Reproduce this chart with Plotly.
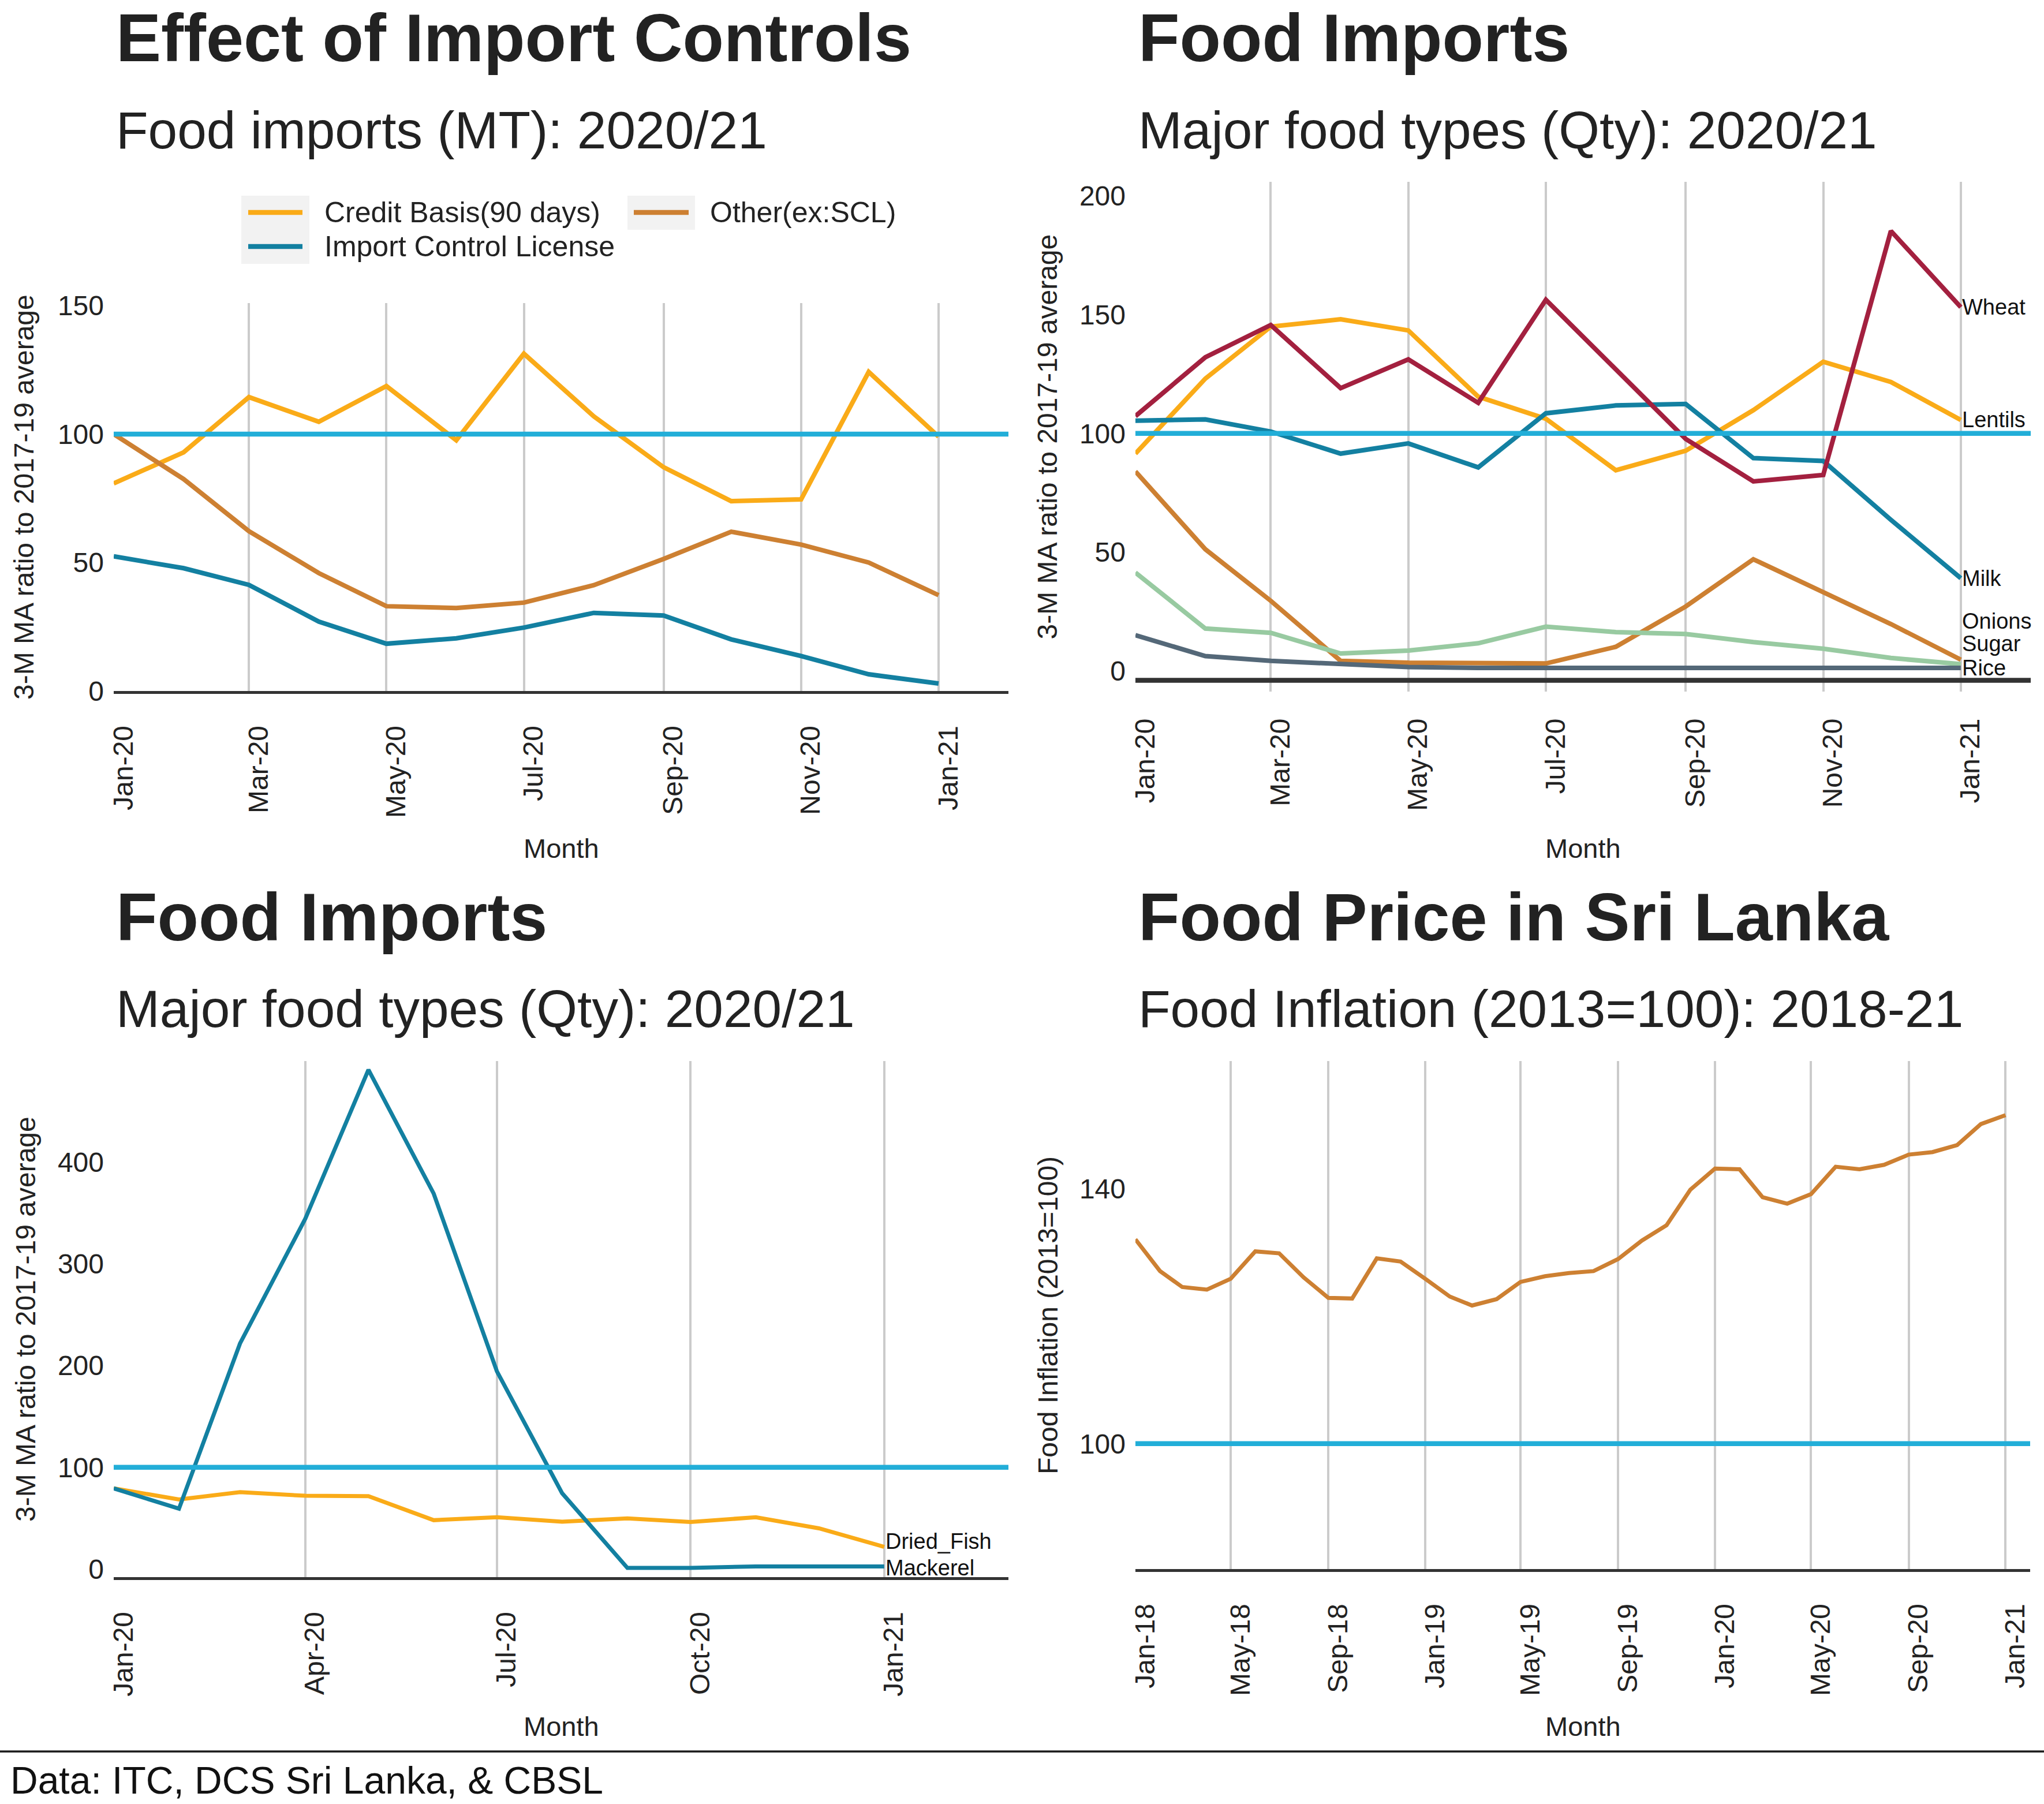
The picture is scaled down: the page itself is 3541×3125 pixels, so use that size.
import plotly.graph_objects as go
import pandas as pd

W, H = 3541, 3125
FONT = "Liberation Sans, Arial, Helvetica, sans-serif"
TXT = "#222222"
GRID = "#cbcbcb"
AXIS = "#333333"
REFC = "#22AED8"
YEL = "#FAAB18"
TEAL = "#1380A1"
ORG = "#CD8032"
CRIM = "#A3203F"
GREEN = "#98CAA1"
SLATE = "#546878"

# ---------------- data ----------------
months_20 = pd.date_range("2020-01-01", "2021-01-01", freq="MS")
months_18 = pd.date_range("2018-01-01", "2021-01-01", freq="MS")

# Panel 1: Food imports (MT), 3-M MA ratio to 2017-19 average
credit_basis = [80.8, 92.9, 114.4, 104.8, 118.7, 97.6, 131.3, 106.9, 87.1, 73.9, 74.6, 124.2, 99.0]
other_ex_scl = [100.0, 82.5, 62.2, 45.9, 33.0, 32.3, 34.4, 41.2, 51.4, 62.0, 57.0, 50.0, 37.3]
import_control = [52.4, 47.8, 41.3, 27.0, 18.4, 20.5, 24.7, 30.4, 29.4, 20.1, 13.6, 6.5, 2.9]

# Panel 2: major food types
lentils = [91.5, 123.1, 145.0, 148.1, 143.4, 115.5, 106.2, 84.5, 92.7, 109.8, 130.2, 121.7, 105.7]
milk = [105.4, 105.9, 100.8, 91.5, 95.8, 85.7, 108.5, 111.8, 112.4, 89.6, 88.4, 63.6, 39.0]
wheat = [107.3, 132.1, 145.7, 119.1, 131.2, 112.9, 156.3, 126.8, 97.7, 79.8, 82.5, 185.3, 153.2]
onions = [84.0, 51.2, 29.5, 4.2, 3.4, 3.1, 3.1, 10.1, 27.1, 47.0, 33.3, 19.7, 4.7]
sugar = [41.4, 17.8, 16.0, 7.3, 8.5, 11.6, 18.6, 16.3, 15.5, 12.1, 9.3, 5.4, 2.8]
rice = [15.0, 6.2, 4.2, 2.8, 1.6, 1.2, 1.2, 1.2, 1.2, 1.2, 1.2, 1.2, 1.2]

# Panel 3: fish
dried_fish = [79.3, 68.4, 75.6, 72.0, 71.6, 48.0, 50.9, 46.5, 49.8, 46.2, 50.9, 40.0, 21.8]
mackerel = [79.3, 59.3, 221.8, 344.4, 490.9, 369.1, 194.5, 74.5, 1.1, 1.1, 2.5, 2.5, 2.5]

# Panel 4: Food inflation (2013=100)
food_inflation = [132.1, 127.1, 124.6, 124.2, 125.9, 130.2, 129.9, 126.1, 122.9, 122.8,
                  129.1, 128.6, 125.9, 123.1, 121.7, 122.7, 125.4, 126.3, 126.8, 127.1,
                  129.0, 131.9, 134.3, 139.9, 143.2, 143.1, 138.7, 137.7, 139.2, 143.5,
                  143.1, 143.8, 145.4, 145.8, 146.9, 150.2, 151.6]

REF_LEVEL = 100
PANEL2_BASE = -4

legend_names = ["Credit Basis(90 days)", "Import Control License", "Other(ex:SCL)"]

panel1 = [("Credit Basis(90 days)", credit_basis, YEL),
          ("Other(ex:SCL)", other_ex_scl, ORG),
          ("Import Control License", import_control, TEAL)]
panel2 = [("Lentils", lentils, YEL, 0), ("Milk", milk, TEAL, 0), ("Wheat", wheat, CRIM, 0),
          ("Onions", onions, ORG, 67), ("Sugar", sugar, GREEN, 36), ("Rice", rice, SLATE, 0)]
panel3 = [("Dried_Fish", dried_fish, YEL, 10), ("Mackerel", mackerel, TEAL, -2)]


def fx(p):
    return p / W


def fy(p):
    return 1 - p / H


fig = go.Figure()

for name, vals, col in panel1:
    fig.add_trace(go.Scatter(x=months_20, y=vals, mode="lines", name=name,
                             line=dict(color=col, width=8), xaxis="x", yaxis="y"))
for name, vals, col, _ in panel2:
    fig.add_trace(go.Scatter(x=months_20, y=vals, mode="lines", name=name,
                             line=dict(color=col, width=8), xaxis="x2", yaxis="y2"))
for name, vals, col, _ in panel3:
    fig.add_trace(go.Scatter(x=months_20, y=vals, mode="lines", name=name,
                             line=dict(color=col, width=7), xaxis="x3", yaxis="y3"))
fig.add_trace(go.Scatter(x=months_18, y=food_inflation, mode="lines", name="Food Inflation",
                         line=dict(color=ORG, width=7), xaxis="x4", yaxis="y4"))


def xcfg(dom, rng, dtick, tick0, anchor, showline=True):
    return dict(domain=[fx(dom[0]), fx(dom[1])], range=rng, type="date", dtick=dtick,
                tick0=tick0, tickformat="%b-%y", tickangle=-90, showgrid=True,
                gridcolor=GRID, gridwidth=4, showline=showline, linecolor=AXIS,
                linewidth=4.5, ticks="", zeroline=False, anchor=anchor,
                tickfont=dict(family=FONT, size=48, color=TXT),
                ticklabelshift=17, ticklabelstandoff=36, automargin=False)


def ycfg(dom, rng, dtick, tick0, anchor):
    return dict(domain=[fy(dom[1]), fy(dom[0])], range=rng, dtick=dtick, tick0=tick0,
                showgrid=False, zeroline=False, showline=False, ticks="", anchor=anchor,
                tickfont=dict(family=FONT, size=48, color=TXT), ticklabelstandoff=16,
                automargin=False)


P1X, P1Y = (197, 1747), (525, 1197)
P2X, P2Y = (1967, 3518), (315, 1198)
P3X, P3Y = (197, 1747), (1838, 2732)
P4X, P4Y = (1967, 3517), (1838, 2718)

fig.update_layout(
    xaxis=xcfg(P1X, ["2020-01-01", "2021-02-01"], "M2", "2020-01-01", "y"),
    yaxis=ycfg(P1Y, [0, 151], 50, 0, "x"),
    xaxis2=xcfg(P2X, ["2020-01-01", "2021-02-01"], "M2", "2020-01-01", "y2", showline=False),
    yaxis2=ycfg(P2Y, [-8.75, 206], 50, 0, "x2"),
    xaxis3=xcfg(P3X, ["2020-01-01", "2021-03-01"], "M3", "2020-01-01", "y3"),
    yaxis3=ycfg(P3Y, [-8, 499.5], 100, 0, "x3"),
    xaxis4=xcfg(P4X, ["2018-01-01", "2021-02-01"], "M4", "2018-01-01", "y4"),
    yaxis4=ycfg(P4Y, [80.3, 160.1], 40, 100, "x4"),
)

shapes = []
for xr, yr in [("x", "y"), ("x2", "y2"), ("x3", "y3"), ("x4", "y4")]:
    shapes.append(dict(type="line", xref=f"{xr} domain", yref=yr, x0=0, x1=1,
                       y0=REF_LEVEL, y1=REF_LEVEL, line=dict(color=REFC, width=8.5)))
shapes.append(dict(type="line", xref="x2 domain", yref="y2", x0=0, x1=1,
                   y0=PANEL2_BASE, y1=PANEL2_BASE, line=dict(color=AXIS, width=8.5)))
# bottom rule
shapes.append(dict(type="line", xref="paper", yref="paper", x0=0, x1=1,
                   y0=fy(3034), y1=fy(3034), line=dict(color="#1a1a1a", width=3.5)))

# manual ggplot-style legend (panel 1)
legend_colors = {"Credit Basis(90 days)": YEL, "Import Control License": TEAL, "Other(ex:SCL)": ORG}
key_boxes = [((418, 536), (339, 457)), ((1087, 1204), (339, 398))]
for (bx, by) in key_boxes:
    shapes.append(dict(type="rect", xref="paper", yref="paper", x0=fx(bx[0]), x1=fx(bx[1]),
                       y0=fy(by[1]), y1=fy(by[0]), fillcolor="#F2F2F2", line=dict(width=0),
                       layer="below"))
legend_slots = [((430, 524), 368, 560), ((430, 524), 427, 560), ((1098, 1193), 368, 1228)]

annotations = []
for name, (kx, ky, tx) in zip(legend_names, legend_slots):
    shapes.append(dict(type="line", xref="paper", yref="paper", x0=fx(kx[0]), x1=fx(kx[1]),
                       y0=fy(ky), y1=fy(ky), line=dict(color=legend_colors[name], width=8.4)))
    annotations.append(dict(text=name, xref="paper", yref="paper", x=fx(tx), y=fy(ky),
                            xanchor="left", yanchor="middle", showarrow=False,
                            font=dict(family=FONT, size=50, color=TXT)))

# end labels
for name, vals, col, nudge in panel2:
    annotations.append(dict(text=name, xref="x2", yref="y2", x=months_20[-1], y=vals[-1],
                            xanchor="left", yanchor="middle", yshift=nudge, showarrow=False,
                            font=dict(family=FONT, size=38, color="#111111")))
for name, vals, col, nudge in panel3:
    annotations.append(dict(text=name, xref="x3", yref="y3", x=months_20[-1], y=vals[-1],
                            xanchor="left", yanchor="middle", yshift=nudge, showarrow=False,
                            font=dict(family=FONT, size=38, color="#111111")))

# titles & subtitles
titles = [
    ("<b>Effect of Import Controls</b>", 199, 65.5, 117),
    ("Food imports (MT): 2020/21", 199, 225.5, 91),
    ("<b>Food Imports</b>", 1970, 65.5, 117),
    ("Major food types (Qty): 2020/21", 1970, 225.5, 91),
    ("<b>Food Imports</b>", 199, 1588.5, 117),
    ("Major food types (Qty): 2020/21", 199, 1747, 91),
    ("<b>Food Price in Sri Lanka</b>", 1970, 1588.5, 117),
    ("Food Inflation (2013=100): 2018-21", 1970, 1747, 91),
]
for text, x, y, size in titles:
    annotations.append(dict(text=text, xref="paper", yref="paper", x=fx(x), y=fy(y),
                            xanchor="left", yanchor="middle", showarrow=False,
                            font=dict(family=FONT, size=size, color=TXT)))

# axis titles
ytitles = [("3-M MA ratio to 2017-19 average", 41, P1Y),
           ("3-M MA ratio to 2017-19 average", 1814, P2Y),
           ("3-M MA ratio to 2017-19 average", 44, P3Y),
           ("Food Inflation (2013=100)", 1815, P4Y)]
for text, x, dom in ytitles:
    annotations.append(dict(text=text, xref="paper", yref="paper", x=fx(x),
                            y=fy((dom[0] + dom[1]) / 2), textangle=-90, xanchor="center",
                            yanchor="middle", showarrow=False,
                            font=dict(family=FONT, size=48, color=TXT)))
xtitles = [(P1X, 1470), (P2X, 1470), (P3X, 2990), (P4X, 2990)]
for dom, y in xtitles:
    annotations.append(dict(text="Month", xref="paper", yref="paper",
                            x=fx((dom[0] + dom[1]) / 2), y=fy(y), xanchor="center",
                            yanchor="middle", showarrow=False,
                            font=dict(family=FONT, size=47, color=TXT)))

annotations.append(dict(text="Data: ITC, DCS Sri Lanka, & CBSL", xref="paper", yref="paper",
                        x=fx(16), y=fy(3084), xanchor="left", yanchor="middle",
                        showarrow=False, font=dict(family=FONT, size=66, color="#111111")))

fig.update_layout(
    width=W, height=H, autosize=False, template="none",
    margin=dict(l=0, r=0, t=0, b=0, pad=0),
    paper_bgcolor="white", plot_bgcolor="white", showlegend=False,
    shapes=shapes, annotations=annotations,
    font=dict(family=FONT, color=TXT),
)

fig.write_html("out.html", config={"displayModeBar": False},
               post_script="document.body.style.margin='0';document.body.style.overflow='hidden';")
